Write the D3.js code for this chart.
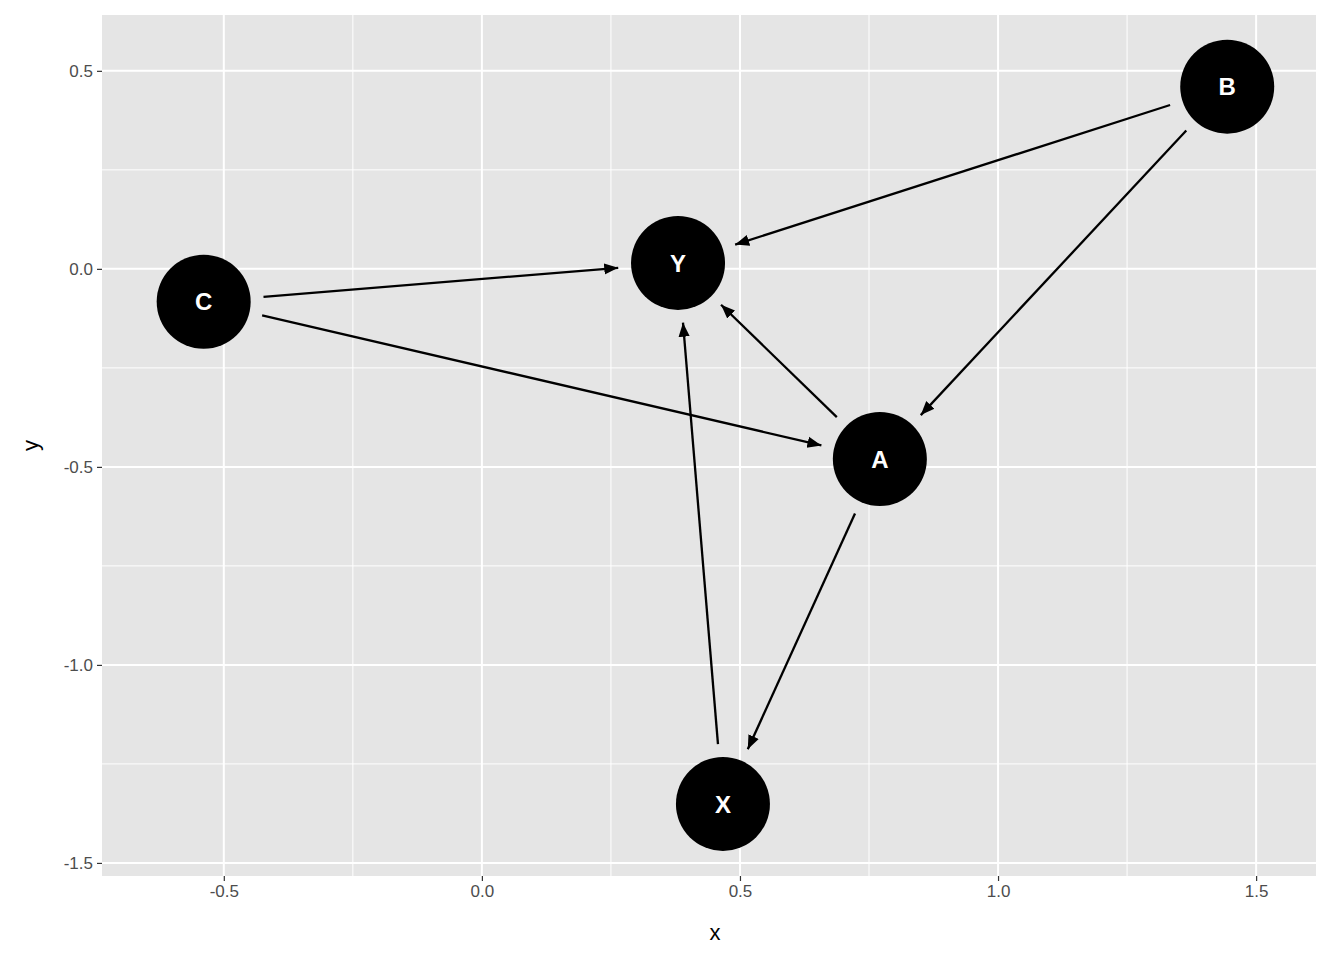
<!DOCTYPE html>
<html><head><meta charset="utf-8">
<script src="https://cdn.jsdelivr.net/npm/d3@7"></script>
<style>body{margin:0;background:#fff}text{font-family:"Liberation Sans",Arial,sans-serif}</style>
</head><body>
<svg id="c" width="1344" height="960"></svg>
<script>
const nodeNames = ["B","Y","C","A","X"];
const nodeX = [1.444, 0.380, -0.539, 0.771, 0.467];
const nodeY = [0.460, 0.015, -0.083, -0.480, -1.351];
const edgeFrom = ["B","B","C","C","A","A","X"];
const edgeTo   = ["Y","A","Y","A","Y","X","Y"];
const xTicks = [-0.5, 0.0, 0.5, 1.0, 1.5];
const yTicks = [0.5, 0.0, -0.5, -1.0, -1.5];
const xMinor = [-0.25, 0.25, 0.75, 1.25];
const yMinor = [0.25, -0.25, -0.75, -1.25];

const svg = d3.select("#c");
const L=102, R=1316, T=15, B=876;
const x = d3.scaleLinear().domain([-0.736,1.616]).range([L,R]);
const y = d3.scaleLinear().domain([0.641,-1.533]).range([T,B]);
svg.append("rect").attr("x",L).attr("y",T).attr("width",R-L).attr("height",B-T).attr("fill","#e5e5e5");
const g = svg.append("g");
xMinor.forEach(v=>g.append("line").attr("x1",x(v)).attr("x2",x(v)).attr("y1",T).attr("y2",B).attr("stroke","#fff").attr("stroke-width",1));
yMinor.forEach(v=>g.append("line").attr("y1",y(v)).attr("y2",y(v)).attr("x1",L).attr("x2",R).attr("stroke","#fff").attr("stroke-width",1));
xTicks.forEach(v=>g.append("line").attr("x1",x(v)).attr("x2",x(v)).attr("y1",T).attr("y2",B).attr("stroke","#fff").attr("stroke-width",2));
yTicks.forEach(v=>g.append("line").attr("y1",y(v)).attr("y2",y(v)).attr("x1",L).attr("x2",R).attr("stroke","#fff").attr("stroke-width",2));

const fmt = v => v.toFixed(1);
const xa = svg.append("g").attr("transform",`translate(0,${B})`).call(d3.axisBottom(x).tickValues(xTicks).tickFormat(fmt).tickSize(5).tickPadding(4));
const ya = svg.append("g").attr("transform",`translate(${L},0)`).call(d3.axisLeft(y).tickValues(yTicks).tickFormat(fmt).tickSize(5).tickPadding(4));
[xa,ya].forEach(a=>{a.select(".domain").remove();a.selectAll("line").attr("stroke","#333").attr("stroke-width",1.2);
 a.selectAll("text").attr("fill","#4d4d4d").style("font-size","17px").style("font-family","Liberation Sans, Arial, sans-serif");});
svg.append("text").attr("x",715).attr("y",940).attr("text-anchor","middle").style("font-size","22px").text("x");
svg.append("text").attr("transform",`translate(38,${(T+B)/2}) rotate(-90)`).attr("text-anchor","middle").style("font-size","22px").text("y");

svg.append("defs").append("marker").attr("id","ah").attr("viewBox","0 0 10 10").attr("refX",10).attr("refY",5)
 .attr("markerWidth",14).attr("markerHeight",14).attr("markerUnits","userSpaceOnUse").attr("orient","auto")
 .append("path").attr("d","M0,1 L10,5 L0,9 Z").attr("fill","#000");

const pos = {};
nodeNames.forEach((n,i)=>pos[n]=[x(nodeX[i]),y(nodeY[i])]);
const gap=60;
edgeFrom.forEach((f,i)=>{
 const [x1,y1]=pos[f],[x2,y2]=pos[edgeTo[i]];
 const d=Math.hypot(x2-x1,y2-y1),ux=(x2-x1)/d,uy=(y2-y1)/d;
 svg.append("line").attr("x1",x1+ux*gap).attr("y1",y1+uy*gap).attr("x2",x2-ux*gap).attr("y2",y2-uy*gap)
  .attr("stroke","#000").attr("stroke-width",2.3).attr("marker-end","url(#ah)");
});
nodeNames.forEach((n,i)=>{
 svg.append("circle").attr("cx",x(nodeX[i])).attr("cy",y(nodeY[i])).attr("r",47).attr("fill","#000");
 svg.append("text").attr("x",x(nodeX[i])).attr("y",y(nodeY[i])).attr("dy","0.36em").attr("text-anchor","middle")
  .attr("fill","#fff").style("font-size","24px").style("font-weight","bold").text(n);
});
</script>
</body></html>
